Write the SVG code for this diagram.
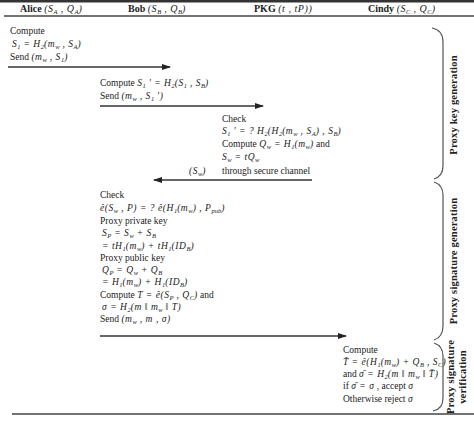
<svg xmlns="http://www.w3.org/2000/svg" width="474" height="421" viewBox="0 0 474 421">
<defs>
<style>
text{font-family:"Liberation Serif","Times New Roman",serif;font-size:9.5px;fill:#222}
.h{font-size:10px}
.b{font-weight:bold}
.i{font-style:italic;letter-spacing:0.55px}
.s{font-size:6.5px;baseline-shift:-2px;letter-spacing:0}
.lbl{font-weight:bold;font-size:10.5px;text-anchor:middle;letter-spacing:0.2px}
.ln{stroke:#333;stroke-width:1.3;fill:none}
.rule{stroke:#444;fill:none}
.br{stroke:#555;stroke-width:1.2;fill:none}
</style>
<marker id="ah" markerWidth="9" markerHeight="6" refX="8" refY="3" orient="auto" markerUnits="userSpaceOnUse">
<path d="M0,0 L9,3 L0,6 Z" fill="#222"/>
</marker>
</defs>
<rect width="474" height="421" fill="#fff"/>

<g id="frame">
<rect x="0" y="0" width="474" height="2.5" fill="#333"/>
<line class="rule" x1="4" y1="16" x2="474" y2="16" stroke-width="1.6"/>
<line class="rule" x1="12" y1="414" x2="474" y2="414" stroke-width="1.6"/>
</g>

<g id="header">
<text class="h" x="20" y="12"><tspan class="b">Alice</tspan> <tspan class="i">(S<tspan class="s">A</tspan> , Q<tspan class="s">A</tspan>)</tspan></text>
<text class="h" x="128" y="12"><tspan class="b">Bob</tspan> <tspan class="i">(S<tspan class="s">B</tspan> , Q<tspan class="s">B</tspan>)</tspan></text>
<text class="h" x="254" y="12"><tspan class="b">PKG</tspan> <tspan class="i">(t , tP))</tspan></text>
<text class="h" x="368" y="12"><tspan class="b">Cindy</tspan> <tspan class="i">(S<tspan class="s">C</tspan> , Q<tspan class="s">C</tspan>)</tspan></text>
</g>

<g id="alice">
<text x="10" y="34">Compute</text>
<text x="12" y="47" class="i">S<tspan class="s">1</tspan> = H<tspan class="s">2</tspan>(m<tspan class="s">w</tspan> , S<tspan class="s">A</tspan>)</text>
<text x="10" y="60">Send <tspan class="i">(m<tspan class="s">w</tspan> , S<tspan class="s">1</tspan>)</tspan></text>
</g>

<g id="bob1">
<text x="100" y="86">Compute <tspan class="i">S<tspan class="s">1</tspan> ' = H<tspan class="s">2</tspan>(S<tspan class="s">1</tspan> , S<tspan class="s">B</tspan>)</tspan></text>
<text x="100" y="99">Send <tspan class="i">(m<tspan class="s">w</tspan> , S<tspan class="s">1</tspan> ')</tspan></text>
</g>

<g id="pkg">
<text x="222" y="122">Check</text>
<text x="222" y="134" class="i">S<tspan class="s">1</tspan> ' = ? H<tspan class="s">2</tspan>(H<tspan class="s">2</tspan>(m<tspan class="s">w</tspan> , S<tspan class="s">A</tspan>) , S<tspan class="s">B</tspan>)</text>
<text x="222" y="147">Compute <tspan class="i">Q<tspan class="s">w</tspan> = H<tspan class="s">1</tspan>(m<tspan class="s">w</tspan>)</tspan> and</text>
<text x="222" y="160" class="i">S<tspan class="s">w</tspan> = tQ<tspan class="s">w</tspan></text>
<text x="189" y="174" class="i">(S<tspan class="s">w</tspan>)</text>
<text x="222" y="174">through secure channel</text>
</g>

<g id="bob2">
<text x="100" y="198">Check</text>
<text x="100" y="211" class="i">ê(S<tspan class="s">w</tspan> , P) = ? ê(H<tspan class="s">1</tspan>(m<tspan class="s">w</tspan>) , P<tspan class="s">pub</tspan>)</text>
<text x="100" y="224">Proxy private key</text>
<text x="102" y="236" class="i">S<tspan class="s">P</tspan> = S<tspan class="s">w</tspan> + S<tspan class="s">B</tspan></text>
<text x="102" y="249" class="i">= tH<tspan class="s">1</tspan>(m<tspan class="s">w</tspan>) + tH<tspan class="s">1</tspan>(ID<tspan class="s">B</tspan>)</text>
<text x="100" y="261">Proxy public key</text>
<text x="102" y="273" class="i">Q<tspan class="s">P</tspan> = Q<tspan class="s">w</tspan> + Q<tspan class="s">B</tspan></text>
<text x="102" y="285" class="i">= H<tspan class="s">1</tspan>(m<tspan class="s">w</tspan>) + H<tspan class="s">1</tspan>(ID<tspan class="s">B</tspan>)</text>
<text x="100" y="298">Compute <tspan class="i">T = ê(S<tspan class="s">P</tspan> , Q<tspan class="s">C</tspan>)</tspan> and</text>
<text x="102" y="310" class="i">σ = H<tspan class="s">2</tspan>(m ‖ m<tspan class="s">w</tspan> ‖ T)</text>
<text x="100" y="322">Send <tspan class="i">(m<tspan class="s">w</tspan> , m , σ)</tspan></text>
</g>

<g id="cindy">
<text x="343" y="353">Compute</text>
<text x="343" y="365" class="i">T̄ = ê(H<tspan class="s">1</tspan>(m<tspan class="s">w</tspan>) + Q<tspan class="s">B</tspan> , S<tspan class="s">C</tspan>)</text>
<text x="343" y="377">and <tspan class="i">σ̄ = H<tspan class="s">2</tspan>(m ‖ m<tspan class="s">w</tspan> ‖ T̄)</tspan></text>
<text x="343" y="389">if <tspan class="i">σ̄ = σ</tspan> , accept <tspan class="i">σ</tspan></text>
<text x="343" y="402">Otherwise reject <tspan class="i">σ</tspan></text>
</g>

<g id="connectors">
<line class="ln" x1="8" y1="67" x2="170" y2="67" marker-end="url(#ah)"/>
<line class="ln" x1="100" y1="106" x2="263" y2="106" marker-end="url(#ah)"/>
<line class="ln" x1="312" y1="180" x2="154" y2="180" marker-end="url(#ah)"/>
<line class="ln" x1="100" y1="336" x2="346" y2="336" marker-end="url(#ah)"/>
</g>

<g id="braces">
<path class="br" d="M432,28 Q443,30 443,42 L443,166 Q443,176 434,179"/>
<path class="br" d="M434,182 Q443,185 443,195 L443,326 Q443,337 434,340"/>
<path class="br" d="M434,343 Q443,346 443,356 L443,398 Q443,409 433,411"/>
</g>

<g id="labels">
<text class="lbl" transform="translate(457,105) rotate(-90)">Proxy key generation</text>
<text class="lbl" transform="translate(457,261) rotate(-90)">Proxy signature generation</text>
<text class="lbl" transform="translate(454,377) rotate(-90)">Proxy signature</text>
<text class="lbl" transform="translate(466,377) rotate(-90)">verification</text>
</g>
</svg>
